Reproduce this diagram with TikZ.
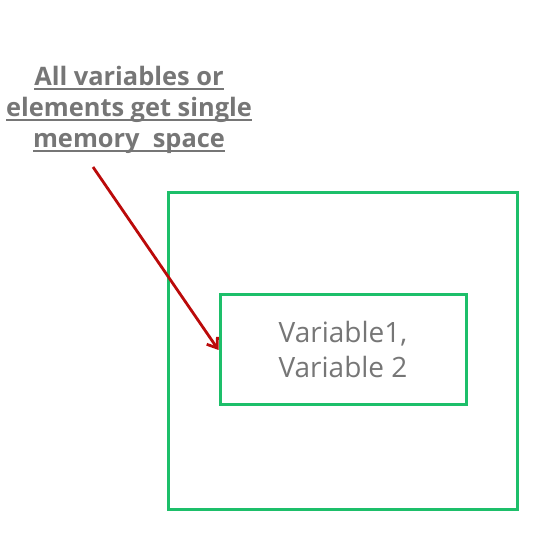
\documentclass[tikz,border=0pt]{standalone}
\usepackage{fontspec}
\setmainfont{Open Sans}
\usetikzlibrary{arrows.meta}
\definecolor{boxgreen}{HTML}{1DBF6A}
\definecolor{txtgray}{HTML}{767676}
\definecolor{arrred}{HTML}{BB0A0A}
\newsavebox\ulbox
\newcommand\myul[1]{\sbox\ulbox{#1}\rlap{\color{txtgray}\rule[-4.5pt]{\wd\ulbox}{2pt}}\usebox\ulbox}
\tikzset{
  greenbox/.style={draw=boxgreen, line width=3pt, minimum width=#1},
  labeltext/.style={text=txtgray, font=\bfseries\fontsize{25.4}{31}\selectfont, align=center, inner sep=0pt},
  vartext/.style={text=txtgray, font=\fontsize{28}{35}\selectfont, align=center},
  redarrow/.style={draw=arrred, line width=2.8pt, -{Straight Barb[length=9pt,width=13pt]}}
}
\begin{document}
\begin{tikzpicture}[x=1pt,y=1pt]
\useasboundingbox (0,0) rectangle (546,541);
\node[greenbox=349pt, minimum height=316pt] (outer) at (342.5,190) {};
\node[greenbox=246pt, minimum height=110pt, vartext] (inner) at (343,191) {Variable1,\\Variable 2};
\node[labeltext] (lab) at (129,431) {\myul{All variables or}\\\myul{elements get single}\\\myul{memory\ \ space}};
\coordinate (start) at (93,374);
\draw[redarrow] (start) -- (inner.west);
\end{tikzpicture}
\end{document}
